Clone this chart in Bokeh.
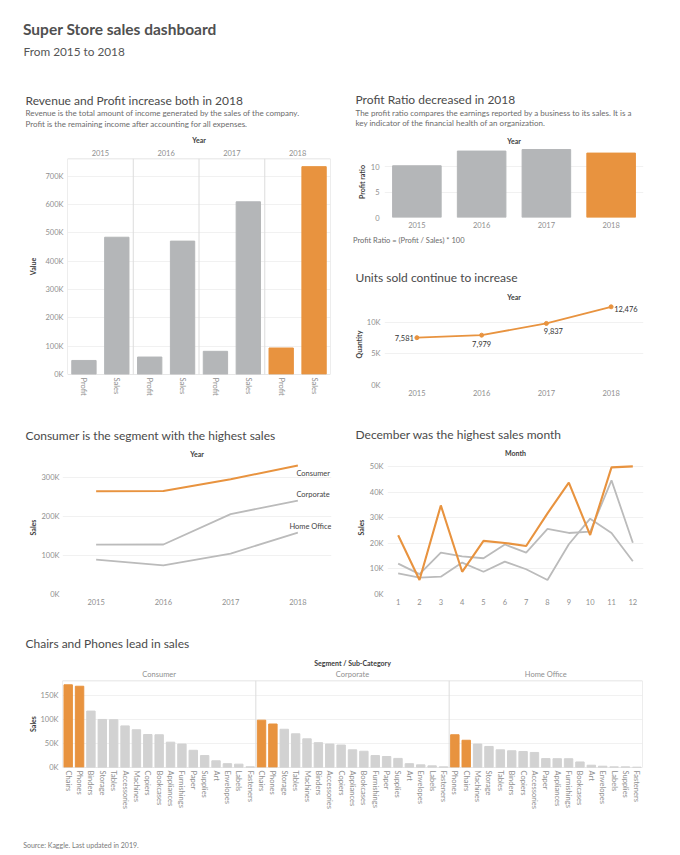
from bokeh.plotting import figure
from bokeh.models import (ColumnDataSource, FactorRange, Range1d, FixedTicker, LinearAxis,
                          Label, Span, CustomJSTickFormatter, SingleIntervalTicker)
from bokeh.layouts import column, row
from bokeh.embed import file_html
from bokeh.resources import INLINE
from bokeh.core.properties import value

# ---------------- data ----------------
years = ["2015", "2016", "2017", "2018"]
measures = ["Profit", "Sales"]
profit = [49544, 61619, 81795, 93439]
sales = [484247, 470533, 609206, 733215]
profit_ratio = [10.2, 13.1, 13.4, 12.7]
quantity = [7581, 7979, 9837, 12476]

segments = ["Consumer", "Corporate", "Home Office"]
seg_consumer = [266097, 266535, 296864, 331904]
seg_corporate = [128435, 128758, 207107, 241848]
seg_home = [89715, 75240, 105235, 159463]

months = ["1", "2", "3", "4", "5", "6", "7", "8", "9", "10", "11", "12"]
month_consumer = [23200, 5700, 34900, 8900, 21000, 20200, 19000, 31800, 43800, 23300, 49800, 50200]
month_corporate = [12100, 8000, 16400, 14900, 14200, 19600, 16400, 25700, 24100, 24600, 44700, 20300]
month_home = [8300, 6600, 7000, 12500, 8900, 12900, 9900, 5700, 19700, 29700, 24100, 13000]

sub_consumer = ["Chairs", "Phones", "Binders", "Storage", "Tables", "Accessories", "Machines", "Copiers",
                "Bookcases", "Appliances", "Furnishings", "Paper", "Supplies", "Art", "Envelopes", "Labels", "Fasteners"]
sales_consumer = [173000, 170000, 118000, 100500, 100000, 87000, 79000, 69000, 68500, 53000, 49000, 36000,
                  25000, 14000, 8000, 7000, 1500]
sub_corporate = ["Chairs", "Phones", "Storage", "Tables", "Machines", "Binders", "Accessories", "Copiers",
                 "Appliances", "Bookcases", "Furnishings", "Paper", "Supplies", "Art", "Envelopes", "Labels", "Fasteners"]
sales_corporate = [99000, 91000, 80000, 70500, 60000, 52000, 49000, 47000, 37000, 34000, 25000, 23000,
                   19000, 8000, 5500, 3400, 1400]
sub_home = ["Phones", "Chairs", "Machines", "Storage", "Tables", "Binders", "Copiers", "Accessories",
            "Paper", "Appliances", "Furnishings", "Bookcases", "Art", "Envelopes", "Labels", "Supplies", "Fasteners"]
sales_home = [68500, 57000, 49000, 44000, 37000, 35000, 33500, 31500, 18600, 18500, 18400, 11600,
              4800, 2700, 1400, 1400, 700]
highlight = ["Chairs", "Phones"]

# ---------------- style ----------------
FONT = "Lato"
ORANGE = "#E8933F"
GRAY = "#B4B6B8"
LIGHT = "#D2D2D2"
LINEGRAY = "#BBBBBB"
TITLE = "#4a4a4a"
DESC = "#6b6b6b"
TICK = "#8f8f8f"
SEP = "#dcdcdc"
GRID = "#f1f1f1"
HEAD = "#3d3d3d"


def kfmt():
    return CustomJSTickFormatter(code="return (tick/1000).toFixed(0) + 'K';")


def style_axis(ax, standoff=4, label_standoff=8):
    ax.axis_line_color = None
    ax.major_tick_line_color = None
    ax.minor_tick_line_color = None
    ax.major_tick_out = 0
    ax.major_tick_in = 0
    ax.minor_tick_out = 0
    ax.minor_tick_in = 0
    ax.major_label_standoff = standoff
    ax.major_label_text_font = FONT
    ax.major_label_text_font_size = "7.5px"
    ax.major_label_text_color = TICK
    ax.axis_label_text_font = FONT
    ax.axis_label_text_font_size = "7px"
    ax.axis_label_text_font_style = "bold"
    ax.axis_label_text_color = HEAD
    ax.axis_label_standoff = label_standoff


def chart(w, h, l, r, t, b, x_range, y_range, head=None, head_standoff=3):
    p = figure(width=w, height=h, x_range=x_range, y_range=y_range, title=head,
               output_backend="svg", toolbar_location=None,
               min_border_left=l, min_border_right=r, min_border_top=t, min_border_bottom=b)
    p.outline_line_color = None
    p.background_fill_color = "white"
    p.border_fill_color = "white"
    p.xgrid.visible = False
    p.ygrid.grid_line_color = GRID
    if head is not None:
        p.title.text_font = FONT
        p.title.text_font_size = "7px"
        p.title.text_font_style = "bold"
        p.title.text_color = HEAD
        p.title.align = "center"
        p.title.standoff = head_standoff
    return p


class Strip:
    """A text-only figure whose frame fills the whole canvas."""

    def __init__(self, fx, fy, w, h):
        self.p = figure(width=w, height=h, x_range=Range1d(0, 1), y_range=Range1d(0, 1), title=None,
                        x_axis_type=None, y_axis_type=None, output_backend="svg", toolbar_location=None,
                        min_border_left=0, min_border_right=0, min_border_top=0, min_border_bottom=0)
        self.p.outline_line_color = None
        self.p.background_fill_color = "white"
        self.p.border_fill_color = "white"
        self.fx = fx
        self.fb = fy + h

    def text(self, px, py, s, size, color=TITLE, bold=False, align="left"):
        # py is the vertical centre of the text line
        self.p.add_layout(Label(x=px - self.fx, y=self.fb - py, x_units="screen", y_units="screen",
                                text=s, text_font=FONT, text_font_size=size, text_color=color,
                                text_font_style="bold" if bold else "normal",
                                text_align=align, text_baseline="middle"))


# ---------------- text strip: header + first row titles ----------------
T1 = Strip(0, 0, 680, 130)
T1.text(22.5, 28.5, "Super Store sales dashboard", "15.5px", color="#505050", bold=True)
T1.text(23, 50.5, "From 2015 to 2018", "11.8px", color="#555555")
T1.text(25, 99.5, "Revenue and Profit increase both in 2018", "12px")
T1.text(25, 112, "Revenue is the total amount of income generated by the sales of the company.", "8px", color=DESC)
T1.text(25, 123, "Profit is the remaining income after accounting for all expenses.", "8px", color=DESC)
T1.text(355, 99, "Profit Ratio decreased in 2018", "12px")
T1.text(355, 112, "The profit ratio compares the earnings reported by a business to its sales. It is a", "8px", color=DESC)
T1.text(355, 122.5, "key indicator of the financial health of an organization.", "8px", color=DESC)

# ---------------- revenue & profit ----------------
R = chart(340, 285, 67, 10, 28, 41, Range1d(0, 16), Range1d(0, 762000))
bx, bv, bc, tick_pos, tick_lab = [], [], [], [], {}
for i, y in enumerate(years):
    for j, (m, vals) in enumerate(zip(measures, [profit, sales])):
        pos = 4 * i + 2 * j + 1
        bx.append(pos)
        bv.append(vals[i])
        bc.append(ORANGE if y == "2018" else GRAY)
        tick_pos.append(pos)
        tick_lab[pos] = m
R.vbar(x="x", top="top", width=1.48, color="c", source=ColumnDataSource(dict(x=bx, top=bv, c=bc)))
xa = R.xaxis[0]
xa.ticker = FixedTicker(ticks=tick_pos)
xa.major_label_overrides = tick_lab
xa.major_label_orientation = "vertical"
style_axis(xa, standoff=3)
ya = R.yaxis[0]
ya.ticker = SingleIntervalTicker(interval=100000)
ya.formatter = kfmt()
ya.axis_label = "Value"
style_axis(ya, standoff=4, label_standoff=5)
top_ax = LinearAxis(ticker=FixedTicker(ticks=[4 * i + 2 for i in range(len(years))]),
                    major_label_overrides={4 * i + 2: y for i, y in enumerate(years)},
                    axis_label="Year")
style_axis(top_ax, standoff=3, label_standoff=3)
R.add_layout(top_ax, "above")
for i in range(len(years) + 1):
    R.add_layout(Span(location=4 * i, dimension="height", line_color=SEP, line_width=1))
R.add_layout(Span(location=0, dimension="width", line_color="#cfcfcf", line_width=1))
R.add_layout(Span(location=762000, dimension="width", line_color=SEP, line_width=1.5))

# ---------------- profit ratio ----------------
P = chart(340, 102, 44, 37, 16, 15, FactorRange(*years), Range1d(0, 14), head="Year", head_standoff=3)
P.vbar(x="x", top="top", width=0.75, color="c",
       source=ColumnDataSource(dict(x=years, top=profit_ratio,
                                    c=[ORANGE if y == "2018" else GRAY for y in years])))
style_axis(P.xaxis[0], standoff=4)
ya = P.yaxis[0]
ya.ticker = SingleIntervalTicker(interval=5)
ya.axis_label = "Profit ratio"
style_axis(ya, standoff=5, label_standoff=2)

# ---------------- text strip: formula + units title + header ----------------
T2 = Strip(340, 232, 340, 68)
T2.text(352.5, 240, "Profit Ratio = (Profit / Sales) * 100", "7.5px", color=DESC)
T2.text(355, 277, "Units sold continue to increase", "12px")
T2.text(513.5, 296, "Year", "7px", color=HEAD, bold=True, align="center")

# ---------------- units ----------------
U = chart(340, 115, 44, 37, 3, 30, FactorRange(*years), Range1d(0, 13000))
U.line(years, quantity, line_color=ORANGE, line_width=1.8)
U.scatter(years, quantity, size=4, color=ORANGE)
U.text(x="x", y="y", text="t", x_offset="xo", y_offset="yo", text_align="al",
       text_baseline="middle", text_font=value(FONT), text_font_size="7.5px", text_color="#333333",
       source=ColumnDataSource(dict(x=years, y=quantity, t=[f"{q:,}" for q in quantity],
                                    xo=[-3, 0, 7, 3], yo=[0, 9, 8, 2],
                                    al=["right", "center", "center", "left"])))
style_axis(U.xaxis[0], standoff=4)
ya = U.yaxis[0]
ya.ticker = SingleIntervalTicker(interval=5000)
ya.formatter = kfmt()
ya.axis_label = "Quantity"
style_axis(ya, standoff=4, label_standoff=1)

# ---------------- text strip: second row titles + headers ----------------
T3 = Strip(0, 415, 680, 43)
T3.text(25, 434.5, "Consumer is the segment with the highest sales", "12px")
T3.text(355, 434, "December was the highest sales month", "12px")
T3.text(196.5, 453, "Year", "7px", color=HEAD, bold=True, align="center")
T3.text(515, 452.7, "Month", "7px", color=HEAD, bold=True, align="center")

# ---------------- segment by year ----------------
S = chart(340, 162, 62, 9, 2, 26, FactorRange(*years), Range1d(0, 345000))
S.line(years, seg_corporate, line_color=LINEGRAY, line_width=1.8)
S.line(years, seg_home, line_color=LINEGRAY, line_width=1.8)
S.line(years, seg_consumer, line_color=ORANGE, line_width=2)
S.text(x="x", y="y", text="t", x_offset="xo", y_offset="yo", text_align="left",
       text_baseline="middle", text_font=value(FONT), text_font_size="7.5px", text_color="#444444",
       source=ColumnDataSource(dict(x=[years[-1]] * 3,
                                    y=[seg_consumer[-1], seg_corporate[-1], seg_home[-1]],
                                    t=segments, xo=[-1.5, -1.5, -8.5], yo=[8, -6, -6])))
style_axis(S.xaxis[0], standoff=4)
ya = S.yaxis[0]
ya.ticker = SingleIntervalTicker(interval=100000)
ya.formatter = kfmt()
ya.axis_label = "Sales"
style_axis(ya, standoff=3, label_standoff=1)

# ---------------- month ----------------
M = chart(340, 162, 47, 37, 2, 26, FactorRange(*months), Range1d(0, 52500))
M.line(months, month_corporate, line_color=LINEGRAY, line_width=1.8)
M.line(months, month_home, line_color=LINEGRAY, line_width=1.8)
M.line(months, month_consumer, line_color=ORANGE, line_width=2.1)
style_axis(M.xaxis[0], standoff=4)
ya = M.yaxis[0]
ya.ticker = SingleIntervalTicker(interval=10000)
ya.formatter = kfmt()
ya.axis_label = "Sales"
style_axis(ya, standoff=4, label_standoff=2)

# ---------------- text strip: third row title ----------------
T4 = Strip(0, 620, 680, 35)
T4.text(25, 642.5, "Chairs and Phones lead in sales", "12px")

# ---------------- sub-category ----------------
B = chart(680, 177, 62, 38, 23, 65, Range1d(0, 102), Range1d(0, 182000))
sx, sv, sc, sticks, slabs = [], [], [], [], {}
n = len(sub_consumer)
for s, (names, vals) in enumerate([(sub_consumer, sales_consumer), (sub_corporate, sales_corporate),
                                   (sub_home, sales_home)]):
    for j, (nm, v) in enumerate(zip(names, vals)):
        pos = 2 * (n * s + j) + 1
        sx.append(pos)
        sv.append(v)
        sc.append(ORANGE if nm in highlight else LIGHT)
        sticks.append(pos)
        slabs[pos] = nm
B.vbar(x="x", top="top", width=1.48, color="c", source=ColumnDataSource(dict(x=sx, top=sv, c=sc)))
xa = B.xaxis[0]
xa.ticker = FixedTicker(ticks=sticks)
xa.major_label_overrides = slabs
xa.major_label_orientation = "vertical"
style_axis(xa, standoff=3)
ya = B.yaxis[0]
ya.ticker = SingleIntervalTicker(interval=50000)
ya.formatter = kfmt()
ya.axis_label = "Sales"
style_axis(ya, standoff=4, label_standoff=0)
top_ax = LinearAxis(ticker=FixedTicker(ticks=[n * (2 * s + 1) for s in range(len(segments))]),
                    major_label_overrides={n * (2 * s + 1): sg for s, sg in enumerate(segments)},
                    axis_label="Segment / Sub-Category")
style_axis(top_ax, standoff=2, label_standoff=0)
B.add_layout(top_ax, "above")
for s in range(len(segments) + 1):
    B.add_layout(Span(location=2 * n * s, dimension="height", line_color=SEP, line_width=1))
B.add_layout(Span(location=0, dimension="width", line_color="#cfcfcf", line_width=1))
B.add_layout(Span(location=182000, dimension="width", line_color=SEP, line_width=1.5))

# ---------------- text strip: source ----------------
T5 = Strip(0, 832, 680, 22)
T5.text(22.7, 844, "Source: Kaggle. Last updated in 2019.", "7px", color="#7a7a7a")

layout = column(
    row(T1.p),
    row(R, column(row(P), row(T2.p), row(U), spacing=0), spacing=0),
    row(T3.p),
    row(S, M, spacing=0),
    row(T4.p),
    row(B),
    row(T5.p),
    spacing=0,
)
open("out.html", "w").write(file_html(layout, INLINE))
